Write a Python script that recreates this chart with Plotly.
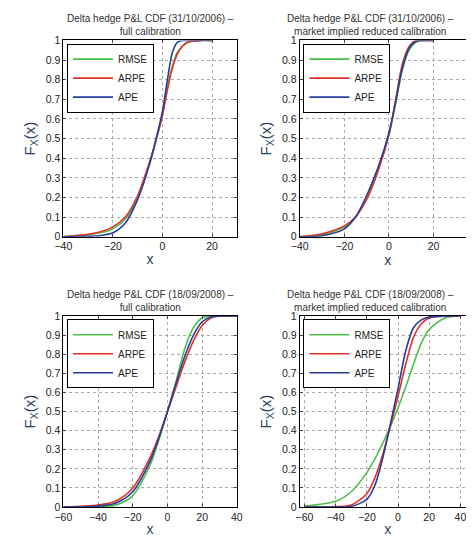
import plotly.graph_objects as go
from plotly.subplots import make_subplots

# top-left: 31/10/2006 full calibration
tl_x = [-40, -30, -25, -20, -15, -10, -5, -2, 0, 2, 4, 6, 8, 10, 15, 20]
tl_rmse = [0, 0.01, 0.02, 0.04, 0.09, 0.2, 0.38, 0.52, 0.62, 0.76, 0.87, 0.94, 0.97, 0.99, 1, 1]
tl_arpe = [0, 0.012, 0.025, 0.05, 0.1, 0.21, 0.39, 0.52, 0.62, 0.75, 0.86, 0.93, 0.97, 0.99, 1, 1]
tl_ape = [0, 0.002, 0.006, 0.02, 0.07, 0.19, 0.38, 0.53, 0.64, 0.8, 0.94, 0.99, 1, 1, 1, 1]

# top-right: 31/10/2006 market implied reduced calibration
tr_x = [-40, -30, -20, -15, -10, -5, 0, 3, 6, 9, 12, 15, 20]
tr_rmse = [0, 0.01, 0.05, 0.1, 0.2, 0.34, 0.52, 0.68, 0.85, 0.95, 0.99, 1, 1]
tr_arpe = [0, 0.015, 0.055, 0.1, 0.19, 0.33, 0.52, 0.7, 0.88, 0.97, 1, 1, 1]
tr_ape = [0, 0.005, 0.04, 0.1, 0.21, 0.35, 0.53, 0.69, 0.86, 0.96, 0.995, 1, 1]

# bottom-left: 18/09/2008 full calibration
bl_x = [-60, -40, -30, -20, -10, -5, 0, 5, 10, 15, 20, 25, 30, 40]
bl_rmse = [0, 0.002, 0.01, 0.06, 0.22, 0.35, 0.5, 0.66, 0.83, 0.94, 0.99, 1, 1, 1]
bl_arpe = [0, 0.01, 0.03, 0.1, 0.26, 0.37, 0.5, 0.63, 0.76, 0.87, 0.95, 0.99, 1, 1]
bl_ape = [0, 0.005, 0.02, 0.08, 0.24, 0.36, 0.5, 0.65, 0.79, 0.9, 0.97, 0.995, 1, 1]

# bottom-right: 18/09/2008 market implied reduced calibration
br_x = [-60, -40, -30, -20, -15, -10, -5, 0, 5, 10, 15, 20, 30, 40]
br_rmse = [0.005, 0.03, 0.08, 0.18, 0.25, 0.33, 0.42, 0.52, 0.63, 0.75, 0.86, 0.93, 0.99, 1]
br_arpe = [0, 0.002, 0.01, 0.07, 0.15, 0.27, 0.42, 0.58, 0.75, 0.89, 0.96, 0.99, 1, 1]
br_ape = [0, 0, 0.003, 0.04, 0.11, 0.25, 0.43, 0.62, 0.82, 0.94, 0.98, 0.995, 1, 1]

titles = [
    "Delta hedge P&L CDF (31/10/2006) –<br>full calibration",
    "Delta hedge P&L CDF (31/10/2006) –<br>market implied reduced calibration",
    "Delta hedge P&L CDF (18/09/2008) –<br>full calibration",
    "Delta hedge P&L CDF (18/09/2008) –<br>market implied reduced calibration",
]
names = ["RMSE", "ARPE", "APE"]
colors = ["#4cbf48", "#e0332a", "#283c9c"]

panels = [
    (tl_x, [tl_rmse, tl_arpe, tl_ape]),
    (tr_x, [tr_rmse, tr_arpe, tr_ape]),
    (bl_x, [bl_rmse, bl_arpe, bl_ape]),
    (br_x, [br_rmse, br_arpe, br_ape]),
]

fig = make_subplots(rows=2, cols=2)
xdom = [[0.101, 0.479], [0.616, 1.0]]
ydom = [[0.579, 0.950], [0.068, 0.429]]
title_x = [0.29, 0.77]
xranges = [[-40, 30], [-40, 39], [-60, 40], [-63, 50]]
xticks = [[-40, -20, 0, 20], [-40, -20, 0, 20], [-60, -40, -20, 0, 20, 40], [-60, -40, -20, 0, 20, 40]]

for i, (xs, series) in enumerate(panels):
    r, c = i // 2 + 1, i % 2 + 1
    leg = "legend" if i == 0 else f"legend{i + 1}"
    for name, ys, col in zip(names, series, colors):
        fig.add_trace(go.Scatter(x=xs, y=ys, name=name, mode="lines",
                                 line=dict(color=col, width=1.6, shape="spline", smoothing=0.8),
                                 legend=leg), row=r, col=c)
    axn = "" if i == 0 else str(i + 1)
    fig.layout[f"xaxis{axn}"].update(
        domain=xdom[c - 1], range=xranges[i], tickvals=xticks[i],
        ticktext=[str(t).replace("-", "−") for t in xticks[i]],
        showgrid=True, gridcolor="#aaa", griddash="dot", zeroline=False,
        showline=True, linecolor="black", mirror="ticks", ticks="inside", ticklen=3,
        title=dict(text="x", font=dict(size=14), standoff=2),
        tickfont=dict(size=10.5, color="#222"))
    fig.layout[f"yaxis{axn}"].update(
        domain=ydom[r - 1], range=[0, 1], dtick=0.1,
        showgrid=True, gridcolor="#aaa", griddash="dot", zeroline=False,
        showline=True, linecolor="black", mirror="ticks", ticks="inside", ticklen=3,
        title=dict(text="F<sub>X</sub>(x)", font=dict(size=15), standoff=6),
        tickfont=dict(size=10.5, color="#222"))
    x0 = xdom[c - 1][0]
    y1 = ydom[r - 1][1]
    fig.layout[leg] = dict(x=x0 + 0.008, y=y1 - 0.006, xanchor="left", yanchor="top",
                           bgcolor="white", bordercolor="black", borderwidth=1,
                           font=dict(size=10, color="#222"), tracegroupgap=0,
                           itemwidth=40)
    fig.add_annotation(text=titles[i], xref="paper", yref="paper",
                       x=title_x[c - 1], y=y1 + 0.002,
                       xanchor="center", yanchor="bottom", showarrow=False,
                       font=dict(size=10, color="#333"))

fig.update_layout(width=474, height=541, margin=dict(l=0, r=0, t=0, b=0),
                  plot_bgcolor="white", paper_bgcolor="white",
                  font=dict(family="Liberation Sans, Arial, sans-serif"))
fig.write_html("out.html")
